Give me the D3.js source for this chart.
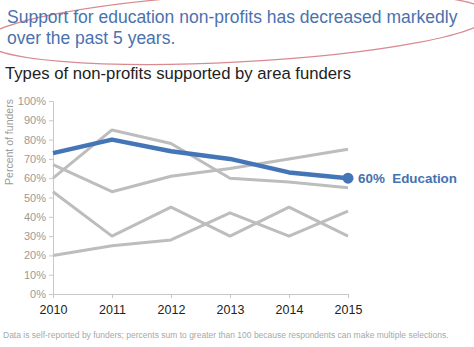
<!DOCTYPE html>
<html>
<head>
<meta charset="utf-8">
<script src="https://cdn.jsdelivr.net/npm/d3@7"></script>
<style>
  html, body { margin: 0; padding: 0; background: #fff; }
  svg { display: block; font-family: "Liberation Sans", Arial, sans-serif; }
</style>
</head>
<body>
<svg id="chart" width="474" height="347"></svg>
<script>
// Survey years and the share of funders supporting each type of non-profit
const years = [2010, 2011, 2012, 2013, 2014, 2015];
const education = [73, 80, 74, 70, 63, 60];
const otherA = [60, 85, 78, 60, 58, 55];
const otherB = [67, 53, 61, 65, 70, 75];
const otherC = [53, 30, 45, 30, 45, 30];
const otherD = [20, 25, 28, 42, 30, 43];
const yTicks = [0, 10, 20, 30, 40, 50, 60, 70, 80, 90, 100];

const svg = d3.select("#chart");

const x = d3.scaleLinear().domain([2010, 2015]).range([53, 348]);
const y = d3.scaleLinear().domain([0, 100]).range([294, 101]);

// Highlight ellipse around the headline
svg.append("ellipse")
  .attr("cx", 238).attr("cy", 28)
  .attr("rx", 252).attr("ry", 34)
  .attr("transform", "rotate(-3 238 28)")
  .attr("fill", "none")
  .attr("stroke", "#d98a90")
  .attr("stroke-width", 1.2);

// Headline
const head = svg.append("text")
  .attr("fill", "#4a72ad")
  .attr("font-size", 17.5);
head.append("tspan").attr("x", 7).attr("y", 23)
  .text("Support for education non-profits has decreased markedly");
head.append("tspan").attr("x", 7).attr("y", 44)
  .text("over the past 5 years.");

// Chart title
svg.append("text")
  .attr("x", 5).attr("y", 79)
  .attr("fill", "#222")
  .attr("font-size", 16.7)
  .text("Types of non-profits supported by area funders");

// Y axis
const yAxis = svg.append("g")
  .attr("transform", `translate(${x(2010)},0)`)
  .call(d3.axisLeft(y).tickValues(yTicks).tickFormat(d => d + "%").tickSize(4).tickPadding(3));
yAxis.select(".domain").attr("stroke", "#c8c8c8");
yAxis.selectAll(".tick line").attr("stroke", "#c8c8c8");
yAxis.selectAll(".tick text")
  .attr("fill", "#9a9a9a")
  .attr("font-size", 11)
  .attr("font-family", "Liberation Sans, Arial, sans-serif");

// X axis
const xAxis = svg.append("g")
  .attr("transform", `translate(0,${y(0)})`)
  .call(d3.axisBottom(x).tickValues(years).tickFormat(d3.format("d")).tickSize(4).tickSizeOuter(4).tickPadding(7));
xAxis.select(".domain").attr("stroke", "#c8c8c8");
xAxis.selectAll(".tick line").attr("stroke", "#c8c8c8");
xAxis.selectAll(".tick text")
  .attr("fill", "#222")
  .attr("font-size", 12.5)
  .attr("font-family", "Liberation Sans, Arial, sans-serif");

// Y axis label
svg.append("text")
  .attr("transform", "translate(13,142) rotate(-90)")
  .attr("text-anchor", "middle")
  .attr("fill", "#9a9a9a")
  .attr("font-size", 10.5)
  .text("Percent of funders");

// Lines
const line = d3.line().x((d, i) => x(years[i])).y(d => y(d));

const others = [otherA, otherB, otherC, otherD];
svg.append("g").selectAll("path")
  .data(others)
  .join("path")
  .attr("d", line)
  .attr("fill", "none")
  .attr("stroke", "#bdbdbd")
  .attr("stroke-width", 3)
  .attr("stroke-linejoin", "round");

svg.append("path")
  .attr("d", line(education))
  .attr("fill", "none")
  .attr("stroke", "#4475b6")
  .attr("stroke-width", 4.5)
  .attr("stroke-linejoin", "round");

const last = education.length - 1;
svg.append("circle")
  .attr("cx", x(years[last]))
  .attr("cy", y(education[last]))
  .attr("r", 5.5)
  .attr("fill", "#4475b6");

svg.append("text")
  .attr("x", x(years[last]) + 10)
  .attr("y", y(education[last]) + 5)
  .attr("fill", "#4472b0")
  .attr("font-size", 13.4)
  .attr("font-weight", "bold")
  .attr("xml:space", "preserve")
  .text(education[last] + "%  Education");

// Footnote
svg.append("text")
  .attr("x", 3).attr("y", 338)
  .attr("fill", "#a8a8a8")
  .attr("font-size", 8.5)
  .text("Data is self-reported by funders; percents sum to greater than 100 because respondents can make multiple selections.");
</script>
</body>
</html>
